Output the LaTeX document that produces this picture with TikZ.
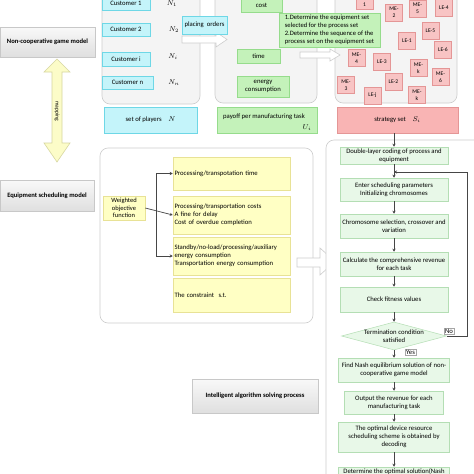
\documentclass[tikz,border=0pt]{standalone}
\usepackage{fontspec}
\setmainfont{Carlito}
\usetikzlibrary{arrows.meta,shapes.geometric,calc}
\definecolor{cyanF}{RGB}{196,244,250}
\definecolor{cyanD}{RGB}{110,215,230}
\definecolor{greenF}{RGB}{196,242,186}
\definecolor{greenD}{RGB}{150,220,140}
\definecolor{redF}{RGB}{248,196,196}
\definecolor{redD}{RGB}{228,150,150}
\definecolor{yelF}{RGB}{255,255,196}
\definecolor{yelD}{RGB}{232,226,150}
\definecolor{flowF}{RGB}{232,248,232}
\definecolor{flowD}{RGB}{180,222,180}
\definecolor{panD}{RGB}{205,205,205}
\definecolor{panF}{RGB}{244,244,244}
\definecolor{grayD}{RGB}{200,200,200}
\definecolor{arrC}{RGB}{70,70,70}
\definecolor{mapF}{RGB}{252,252,200}
\definecolor{mapD}{RGB}{215,215,160}
\begin{document}
\begin{tikzpicture}[x=1pt,y=-1pt,
  font=\fontsize{6.7}{8}\selectfont,
  box/.style={draw, rectangle, inner sep=1pt, align=center, line width=0.5pt},
  cyanbox/.style={box, fill=cyanF, draw=cyanD},
  greenbox/.style={box, fill=greenF, draw=greenD},
  redbox/.style={box, fill=redF, draw=redD},
  sm/.style={redbox, minimum width=17pt, minimum height=17pt, inner sep=0pt, font=\fontsize{5.6}{6.6}\selectfont},
  yelbox/.style={box, fill=yelF, draw=yelD, align=left, text width=114pt, minimum width=117pt, inner sep=1.5pt},
  flow/.style={box, fill=flowF, draw=flowD},
  panel/.style={draw=panD, rounded corners=8pt, line width=0.6pt},
  lbl/.style={box, top color=white!95!gray, bottom color=gray!25, draw=grayD, font=\bfseries\fontsize{6.6}{7.6}\selectfont},
  math/.style={font=\fontsize{7.5}{8.5}\selectfont},
  arr/.style={draw=arrC, line width=0.7pt, -{Stealth[length=3pt,width=3pt]}},
  ln/.style={draw=arrC, line width=0.7pt},
  hollow/.style={draw=panD, fill=white, line width=0.6pt},
  tag/.style={box, fill=white, draw=gray!70, inner sep=1pt},
]
\useasboundingbox (0,0) rectangle (474,474);
\fill[white] (0,0) rectangle (474,474);

% ---------- left labels ----------
\node[lbl, minimum width=95pt, minimum height=30pt] (nc) at (47.5,42) {Non-cooperative game model};
\node[lbl, minimum width=94pt, minimum height=31pt] (esm) at (47,195.5) {Equipment scheduling model};
\node[lbl, minimum width=126pt, minimum height=34pt] (iasp) at (255,396) {Intelligent algorithm solving process};

% mapping double arrow
\draw[fill=mapF, draw=mapD, line width=0.6pt]
  (57,59) -- (70,72) -- (62,72) -- (62,143) -- (70,143) -- (57,162) -- (44,143) -- (52,143) -- (52,72) -- (44,72) -- cycle;
\node[rotate=-90, font=\fontsize{5.6}{6.6}\selectfont] (map) at (57,111) {mapping};

% ---------- top panels ----------
\draw[panel, fill=panF] (102,-20) rectangle (200,104);
\draw[panel, fill=panF] (215,-20) rectangle (317,103);
\draw[panel, fill=panF] (335,-20) rectangle (457,103);

% players
\node[cyanbox, minimum width=48pt, minimum height=13pt] (c1) at (126,3.5) {Customer 1};
\node[cyanbox, minimum width=48pt, minimum height=13pt] (c2) at (126,29.5) {Customer 2};
\node[cyanbox, minimum width=48pt, minimum height=14pt] (ci) at (126,59) {Customer i};
\node[cyanbox, minimum width=51pt, minimum height=13pt] (cn) at (127.5,82.5) {Customer n};
\node[math] (n1) at (172,4) {$N_1$};
\node[math] (n2) at (174,30) {$N_2$};
\node[math] (ni) at (173,57) {$N_i$};
\node[math] (nn) at (174,83) {$N_n$};
\node[cyanbox, minimum width=93pt, minimum height=26pt] (sop) at (150.5,120) {set of players\quad\fontsize{7.5}{8.5}\selectfont$N$};

% placing orders + hollow arrow
\draw[hollow] (182,36) -- (216,36) -- (216,32) -- (227,39.5) -- (216,47) -- (216,43) -- (182,43) -- cycle;
\node[cyanbox, minimum width=45pt, minimum height=18pt] (po) at (204.5,25) {placing\ \ orders};

% payoff
\node[greenbox, minimum width=41pt, minimum height=14pt] (cost) at (261.5,5) {cost};
\node[greenbox, minimum width=43pt, minimum height=14pt] (time) at (258.5,56) {time};
\node[greenbox, minimum width=52pt, minimum height=21pt] (ener) at (263,86.5) {energy\\consumption};
\node[greenbox, minimum width=100pt, minimum height=26pt] (pay) at (267,120) {};
\node (paytxt) at (264,117) {payoff per manufacturing task};
\node[math] (ui) at (307,127.5) {$U_i$};

% determine + hollow arrow
\draw[hollow] (300,52) -- (330,52) -- (330,49) -- (340,55) -- (330,61) -- (330,58) -- (300,58) -- cycle;
\node[greenbox, minimum width=101pt, minimum height=34pt, align=left, inner sep=1.5pt, font=\fontsize{6.6}{7.9}\selectfont] (detb) at (329.5,30)
  {1.Determine the equipment set\\selected for the process set\\2.Determine the sequence of the\\process set on the equipment set};

% strategy boxes
\node[sm] (me1) at (364.5,1) {ME-\\1};
\node[sm] (me2) at (394,12.5) {ME-\\2};
\node[sm] (me5) at (417.5,8.5) {ME-\\5};
\node[sm] (le4) at (444,7.5) {LE-4};
\node[sm] (le5) at (430.5,31) {LE-5};
\node[sm] (le1) at (407,40.5) {LE-1};
\node[sm] (le6) at (443,49.5) {LE-6};
\node[sm] (me4) at (356.5,58) {ME-\\4};
\node[sm] (le3) at (382,62) {LE-3};
\node[sm] (mek1) at (418.5,68) {ME-\\k};
\node[sm] (me6) at (440.5,77) {ME-\\6};
\node[sm] (me3) at (346,85) {ME-\\3};
\node[sm] (le2) at (393.5,81.5) {LE-2};
\node[sm] (lej) at (372.5,95.5) {LE-j};
\node[sm] (mek2) at (417,95) {ME-\\k};
\node[redbox, fill=redF!92!red, minimum width=121pt, minimum height=26pt] (ss) at (397.5,120) {strategy set\quad\fontsize{7.5}{8.5}\selectfont$S_i$};

% ---------- equipment scheduling panel ----------
\draw[panel, fill=white] (100,148) rectangle (313,323);
\node[box, fill=yelF, draw=yelD, minimum width=42pt, minimum height=24pt, inner sep=0.5pt, font=\fontsize{6.5}{7.6}\selectfont] (wof) at (124,208) {Weighted\\objective\\function};
\node[yelbox, minimum height=33pt] (y1) at (231.5,173.5) {Processing/transpotation time};
\node[yelbox, minimum height=38pt] (y2) at (231.5,215) {Processing/transportation costs\\A fine for delay\\Cost of overdue completion};
\node[yelbox, minimum height=38pt] (y3) at (231.5,256) {Standby/no-load/processing/auxiliary\\energy consumption\\Transportation energy consumption};
\node[yelbox, minimum height=34pt] (y4) at (231.5,295) {The constraint\ \ s.t.};
\coordinate (bus) at (156,208);
\draw[arr] (wof.east) -- (y2.west);
\draw[ln] (bus |- y1.west) -- (bus |- y3.west);
\draw[arr] (bus |- y1.west) -- (y1.west);
\draw[arr] (bus |- y3.west) -- (y3.west);

% hollow arrow between panels
\draw[hollow] (297,258) -- (320,258) -- (320,248) -- (335,261.5) -- (320,275) -- (320,267) -- (297,267) -- cycle;

% ---------- flowchart ----------
\draw[panel, fill=white] (326,140) rectangle (490,500);
\node[flow, minimum width=108pt, minimum height=17pt] (dbl) at (394,155.5) {Double-layer coding of process and\\equipment};
\node[flow, minimum width=108pt, minimum height=23pt] (ent) at (394,189.5) {Enter scheduling parameters\\Initializing chromosomes};
\node[flow, minimum width=108pt, minimum height=24pt] (chr) at (394,226) {Chromosome selection, crossover and\\variation};
\node[flow, minimum width=108pt, minimum height=24pt] (calc) at (394,264) {Calculate the comprehensive revenue\\for each task};
\node[flow, minimum width=108pt, minimum height=25pt] (chk) at (394,299.5) {Check fitness values};
\node[flow, diamond, aspect=3.75, inner sep=0pt, minimum width=105pt, minimum height=28pt] (term) at (394,336) {};
\node[align=center] (termtxt) at (394,336) {Termination condition\\satisfied};
\node[flow, minimum width=111pt, minimum height=24pt] (nash) at (394,370) {Find Nash equilibrium solution of non-\\cooperative game model};
\node[flow, minimum width=99pt, minimum height=23pt] (out) at (394,402.5) {Output the revenue for each\\manufacturing task};
\node[flow, minimum width=111pt, minimum height=30pt] (opt) at (394,437) {The optimal device resource\\scheduling scheme is obtained by\\decoding};
\node[flow, minimum width=111pt, minimum height=26pt] (det) at (394,480) {};
\node[anchor=north, inner sep=0pt] (dettxt) at (394,468.5) {Determine the optimal solution(Nash};

\draw[arr] (ss.south -| dbl.north) -- (dbl.north);
\draw[arr] (dbl) -- (ent);
\draw[arr] (ent) -- (chr);
\draw[arr] (chr) -- (calc);
\draw[arr] (calc) -- (chk);
\draw[arr] (chk) -- (term);
\draw[arr] (term) -- (nash);
\draw[arr] (nash) -- (out);
\draw[arr] (out) -- (opt);
\draw[arr] (opt) -- (det);
\coordinate (loopc) at (467,172);
\draw[arr] (term.east) -- (term.east -| loopc) -- (loopc) -- (dbl.south |- loopc);
\node[tag] (no) at (449,331.5) {No};
\node[tag] (yes) at (410.5,352) {Yes};
\end{tikzpicture}
\end{document}
